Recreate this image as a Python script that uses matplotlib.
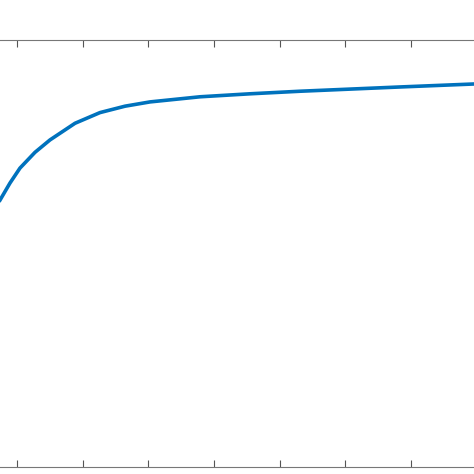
import matplotlib
matplotlib.use("Agg")
import matplotlib.pyplot as plt

# curve samples (x in tick units, y in axis fraction)
xs = [0.741, 0.893, 1.045, 1.274, 1.502, 1.883, 2.263, 2.644, 3.024, 3.785, 4.546, 5.307, 6.068, 6.829, 7.956]
ys = [0.625, 0.665, 0.700, 0.737, 0.766, 0.805, 0.830, 0.845, 0.855, 0.867, 0.874, 0.880, 0.885, 0.890, 0.897]
ticks = [1, 2, 3, 4, 5, 6, 7]

fig = plt.figure(figsize=(4.74, 4.74), dpi=100)
ax = fig.add_axes([0, (474-467)/474, 1, (467-40)/474])
ax.plot(xs, ys, color="#0072BD", lw=2.6)
ax.set_xlim(0.741, 7.956)
ax.set_ylim(0, 1)
ax.set_xticks(ticks)
ax.set_yticks([])
ax.tick_params(axis="x", direction="in", top=True, bottom=True, labelbottom=False, length=5, color="#555555")
for s in ["left", "right"]:
    ax.spines[s].set_visible(False)
for s in ["top", "bottom"]:
    ax.spines[s].set_color("#777777")
    ax.spines[s].set_linewidth(0.8)
fig.savefig("out.png", dpi=100)
